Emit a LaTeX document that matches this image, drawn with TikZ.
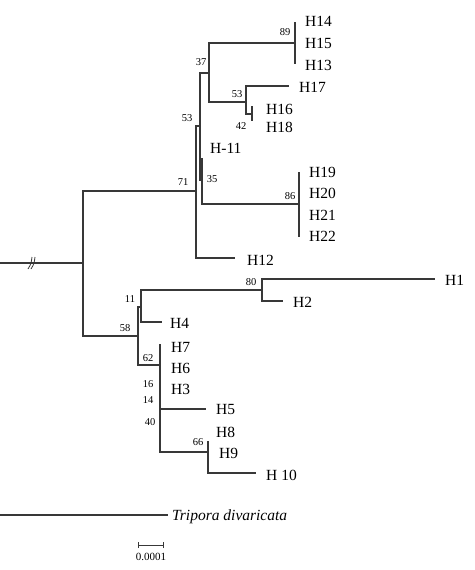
\documentclass[tikz,border=0pt]{standalone}
\usepackage{fontspec}
\setmainfont{Liberation Serif}
\begin{document}
\begin{tikzpicture}[x=1pt,y=-1pt,
  br/.style={draw=black!78, line width=1.1pt},
  leaf/.style={anchor=west, inner sep=0pt, text height=10pt, text depth=0pt, font=\fontsize{15.5}{18}\selectfont},
  bs/.style={inner sep=0pt, text height=7pt, text depth=0pt, font=\fontsize{10.5}{12}\selectfont}]
\useasboundingbox (0,0) rectangle (474,570);
% coordinates of tree nodes
\coordinate (start) at (0,263);
\coordinate (R) at (83,263);
\coordinate (n71) at (196,191);
\coordinate (n53) at (200,126);
\coordinate (n37) at (209,73);
\coordinate (n89) at (295,43);
\coordinate (l14) at (295,22);
\coordinate (l13) at (295,64);
\coordinate (n53b) at (246,102);
\coordinate (l17) at (289,86);
\coordinate (n42) at (252,114);
\coordinate (l16) at (252,106);
\coordinate (l18) at (252,121);
\coordinate (n35) at (202,180);
\coordinate (l11) at (202,158);
\coordinate (n86) at (299,204);
\coordinate (l19) at (299,172);
\coordinate (l22) at (299,237);
\coordinate (l12) at (235,258);
\coordinate (n58) at (138,336);
\coordinate (n11) at (141,307);
\coordinate (n80) at (262,290);
\coordinate (l1) at (435,279);
\coordinate (l2) at (283,301);
\coordinate (l4) at (162,322);
\coordinate (n62) at (160,365);
\coordinate (l7) at (160,344);
\coordinate (l5) at (206,409);
\coordinate (n66) at (208,452);
\coordinate (l8) at (208,441);
\coordinate (l10) at (256,473);
\coordinate (og) at (0,515);
\coordinate (ogend) at (168,515);
% branches
\draw[br] (start) -- (R);
\draw[br] (R) |- (n71);
\draw[br] (R) |- (n58);
\draw[br] (n71) |- (n53);
\draw[br] (n71) |- (l12);
\draw[br] (n53) |- (n37);
\draw[br] (n53) |- (n35);
\draw[br] (n37) |- (n89);
\draw[br] (n37) |- (n53b);
\draw[br] (n89) -- (l14);
\draw[br] (n89) -- (l13);
\draw[br] (n53b) |- (l17);
\draw[br] (n53b) |- (n42);
\draw[br] (n42) -- (l16);
\draw[br] (n42) -- (l18);
\draw[br] (n35) |- (l11);
\draw[br] (n35) |- (n86);
\draw[br] (n86) -- (l19);
\draw[br] (n86) -- (l22);
\draw[br] (n58) |- (n11);
\draw[br] (n58) |- (n62);
\draw[br] (n11) |- (n80);
\draw[br] (n11) |- (l4);
\draw[br] (n80) |- (l1);
\draw[br] (n80) |- (l2);
\draw[br] (n62) |- (l7);
\draw[br] (n62) |- (l5);
\draw[br] (n62) |- (n66);
\draw[br] (n66) |- (l8);
\draw[br] (n66) |- (l10);
\draw[br] (og) -- (ogend);
% break mark
\coordinate (bk) at (32,263);
\draw[black!78, line width=0.8pt] ([xshift=-4pt,yshift=-6pt]bk) .. controls ([xshift=-1pt,yshift=-1pt]bk) .. ([xshift=0pt,yshift=6pt]bk);
\draw[black!78, line width=0.8pt] ([xshift=-1pt,yshift=-6pt]bk) .. controls ([xshift=2pt,yshift=-1pt]bk) .. ([xshift=3pt,yshift=6pt]bk);
% leaf labels
\node[leaf] (tH14) at (305,22) {H14};
\node[leaf] (tH15) at (305,43) {H15};
\node[leaf] (tH13) at (305,65) {H13};
\node[leaf] (tH17) at (299,87) {H17};
\node[leaf] (tH16) at (266,109) {H16};
\node[leaf] (tH18) at (266,127) {H18};
\node[leaf] (tH11) at (210,148) {H-11};
\node[leaf] (tH19) at (309,172) {H19};
\node[leaf] (tH20) at (309,193) {H20};
\node[leaf] (tH21) at (309,215) {H21};
\node[leaf] (tH22) at (309,236) {H22};
\node[leaf] (tH12) at (247,260) {H12};
\node[leaf] (tH1) at (445,280) {H1};
\node[leaf] (tH2) at (293,302) {H2};
\node[leaf] (tH4) at (170,323) {H4};
\node[leaf] (tH7) at (171,347) {H7};
\node[leaf] (tH6) at (171,368) {H6};
\node[leaf] (tH3) at (171,389) {H3};
\node[leaf] (tH5) at (216,409) {H5};
\node[leaf] (tH8) at (216,432) {H8};
\node[leaf] (tH9) at (219,453) {H9};
\node[leaf] (tH10) at (266,475) {H 10};
\node[leaf] (tout) at (172,515) {\itshape Tripora divaricata};
% bootstrap values
\node[bs] (b89) at (285,32) {89};
\node[bs] (b37) at (201,62) {37};
\node[bs] (b53b) at (237,94) {53};
\node[bs] (b42) at (241,126) {42};
\node[bs] (b53) at (187,118) {53};
\node[bs] (b71) at (183,182) {71};
\node[bs] (b35) at (212,179) {35};
\node[bs] (b86) at (290,196) {86};
\node[bs] (b80) at (251,282) {80};
\node[bs] (b11) at (130,299) {11};
\node[bs] (b58) at (125,328) {58};
\node[bs] (b62) at (148,358) {62};
\node[bs] (b16) at (148,384) {16};
\node[bs] (b14) at (148,400) {14};
\node[bs] (b40) at (150,422) {40};
\node[bs] (b66) at (198,442) {66};
% scale bar
\coordinate (sb1) at (138,545);
\coordinate (sb2) at (163,545);
\draw[black!78, line width=0.8pt] (sb1) -- (sb2);
\draw[black!78, line width=0.8pt] ([yshift=-3pt]sb1) -- ([yshift=3pt]sb1);
\draw[black!78, line width=0.8pt] ([yshift=-3pt]sb2) -- ([yshift=3pt]sb2);
\node[inner sep=0pt, text height=7.5pt, text depth=0pt, font=\fontsize{11}{13}\selectfont] (sbl) at (151,557) {0.0001};
\end{tikzpicture}
\end{document}
